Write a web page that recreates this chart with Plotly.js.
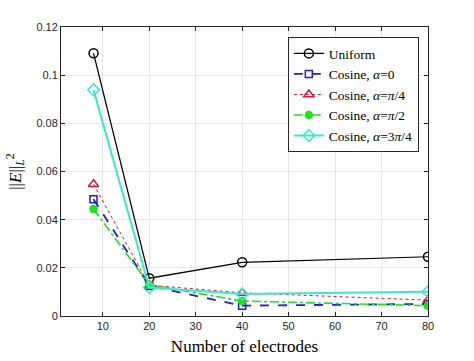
<!DOCTYPE html>
<html><head><meta charset="utf-8">
<script src="https://cdn.plot.ly/plotly-3.0.1.min.js"></script>
<style>body{margin:0;background:#fff}#c{width:474px;height:361px}</style>
</head><body><div id="c"></div>
<script>
const electrodes = [8, 20, 40, 80];
const uniform   = [0.1091, 0.0157, 0.0223, 0.0246];
const cos0      = [0.0485, 0.0125, 0.0043, 0.0050];
const cosPi4    = [0.0547, 0.0128, 0.0096, 0.0066];
const cosPi2    = [0.0444, 0.0130, 0.0062, 0.0043];
const cos3Pi4   = [0.0939, 0.0118, 0.0091, 0.0101];
const names = ['Uniform', 'Cosine, <i>α</i>=0', 'Cosine, <i>α</i>=<i>π</i>/4', 'Cosine, <i>α</i>=<i>π</i>/2', 'Cosine, <i>α</i>=3<i>π</i>/4'];
const yTickVals = [0, 0.02, 0.04, 0.06, 0.08, 0.1, 0.12];
const yTickText = ['0', '0.02', '0.04', '0.06', '0.08', '0.1', '0.12'];
const xTickVals = [10, 20, 30, 40, 50, 60, 70, 80];

const series = [uniform, cos0, cosPi4, cosPi2, cos3Pi4];
const styles = [
  {color:'#000000', dash:'solid', width:1.2, symbol:'circle-open', size:9},
  {color:'#1f1fd6', dash:'dash', width:1.8, symbol:'square-open', size:7},
  {color:'#d6163c', dash:'dot', width:1.0, symbol:'triangle-up-open', size:9},
  {color:'#22e01e', dash:'dashdot', width:1.6, symbol:'circle', size:7},
  {color:'#3de8c8', dash:'solid', width:2.0, symbol:'diamond-open', size:9}
];
const traces = series.map((s, i) => ({
  x: electrodes, y: s, name: names[i], type: 'scatter', mode: 'lines+markers',
  line: {color: styles[i].color, dash: styles[i].dash, width: styles[i].width},
  marker: {symbol: styles[i].symbol, size: styles[i].size, color: styles[i].color,
           line: {color: styles[i].color, width: 1.5}}
}));

const layout = {
  width: 474, height: 361,
  margin: {l: 61, r: 46, t: 27, b: 45},
  paper_bgcolor: '#fff', plot_bgcolor: '#fff',
  font: {family: 'Liberation Sans, Arial, sans-serif', size: 11, color: '#262626'},
  xaxis: {
    range: [1, 80], tickvals: xTickVals, ticks: 'inside', ticklen: 4,
    showline: true, mirror: 'ticks', linecolor: '#262626', linewidth: 1,
    gridcolor: '#e6e6e6', zeroline: false, tickcolor: '#262626',
    tickfont: {family: 'Liberation Sans, Arial, sans-serif', size: 11, color: '#262626'},
    title: {text: 'Number of electrodes', standoff: 8,
            font: {family: 'Liberation Serif, Times New Roman, serif', size: 17, color: '#000'}}
  },
  yaxis: {
    range: [0, 0.12], tickvals: yTickVals, ticktext: yTickText, ticks: 'inside', ticklen: 4,
    showline: true, mirror: 'ticks', linecolor: '#262626', linewidth: 1,
    gridcolor: '#e6e6e6', zeroline: false, tickcolor: '#262626',
    tickfont: {family: 'Liberation Sans, Arial, sans-serif', size: 11, color: '#262626'},
    title: {text: '||<i>E</i>||<sub><i>L</i></sub><sup>2</sup>', standoff: 10,
            font: {family: 'Liberation Serif, Times New Roman, serif', size: 17, color: '#000'}}
  },
  legend: {
    x: 0.975, y: 0.965, xanchor: 'right', yanchor: 'top',
    bgcolor: '#fff', bordercolor: '#262626', borderwidth: 1,
    font: {family: 'Liberation Serif, Times New Roman, serif', size: 13.5, color: '#000'},
    tracegroupgap: 0, itemwidth: 30
  },
  showlegend: true
};
Plotly.newPlot('c', traces, layout, {displayModeBar: false, staticPlot: true});
</script></body></html>
